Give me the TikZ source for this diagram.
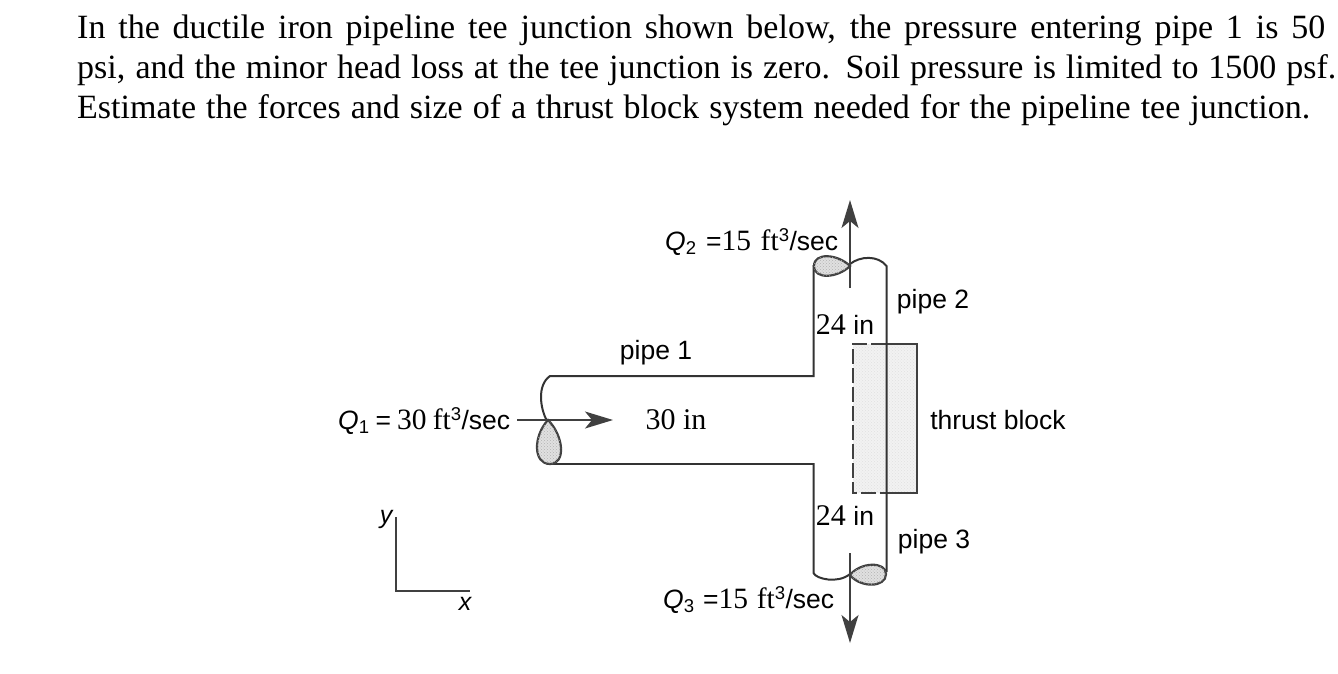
\documentclass[tikz,border=0pt]{standalone}
\usepackage{fontspec}
\setmainfont{Liberation Serif}
\setsansfont{Liberation Sans}
\usetikzlibrary{arrows.meta,patterns}
\newcommand{\rmbig}{\rmfamily\fontsize{29.5}{34}\selectfont}

\begin{document}
\begin{tikzpicture}[x=1pt, y=-1pt]
                  \tikzstyle{prob}=[inner sep=0pt, anchor=base west, font=\fontsize{34}{40}\selectfont]
                  \tikzstyle{lab}=[inner sep=0pt, font=\sffamily\fontsize{26.5}{30}\selectfont]
                  \tikzstyle{dia}=[inner sep=0pt, font=\fontsize{30}{34}\selectfont]
                  \tikzstyle{pipe}=[line width=2pt, black!80]
                  \tikzstyle{flow}=[line width=1.6pt, black!75, -{Stealth[length=28pt, width=17pt, inset=7pt]}]
                  \tikzstyle{pipeend}=[line width=2.2pt, black!75, fill=black!12, postaction={pattern=crosshatch dots, pattern color=black!30}]
                  \tikzstyle{blockfill}=[fill=black!5, postaction={pattern=crosshatch dots, pattern color=black!12}]

                  \useasboundingbox (0,0) rectangle (1338,673);

                  \node[prob] (line1) at (77,38) {\makebox[1248pt][s]{In the ductile iron pipeline tee junction shown below, the pressure entering pipe 1 is 50}};
                  \node[prob] (line2) at (77,78) {\makebox[1259pt][s]{psi, and the minor head loss at the tee junction is zero. Soil pressure is limited to 1500 psf.}};
                  \node[prob] (line3) at (77,118) {\makebox[1233pt][s]{Estimate the forces and size of a thrust block system needed for the pipeline tee junction.}};

                  % thrust block
                  \fill[blockfill] (853,344) rectangle (917,493);
                  \draw[line width=1.8pt, black!75, dash pattern=on 15pt off 4pt] (886,344) -- (853,344) -- (853,493) -- (886,493);
                  \draw[line width=1.8pt, black!75] (886,344) -- (917,344) -- (917,493) -- (886,493);

                  % pipes
                  \draw[pipe] (551,464) -- (813.5,464);
                  \draw[pipe] (813.5,463) -- (813.5,573)
                    .. controls (816,579) and (838,584) .. (850,574);
                  \draw[pipe] (547,421) .. controls (540,408) and (537,385) .. (550,376)
                    -- (813.5,376) -- (813.5,265);
                  \draw[pipe] (850,264) .. controls (860,256) and (878,255) .. (886.5,266) -- (886.5,572);

                  % shaded pipe ends
                  \draw[pipeend] (548,420) .. controls (533,436) and (533,464) .. (550,464)
                    .. controls (566,464) and (564,436) .. (548,420) -- cycle;
                  \draw[pipeend] (850,266) .. controls (838,254) and (814,252) .. (814,266)
                    .. controls (814,280) and (838,278) .. (850,266) -- cycle;
                  \draw[pipeend] (850,575) .. controls (860,562) and (886,561) .. (886,574)
                    .. controls (886,588) and (860,588) .. (850,575) -- cycle;

                  % labels
                  \node[lab, anchor=west] (q1) at (338,421) {\makebox[172pt][s]{\textit{Q}\textsubscript{1} = {\rmbig 30 ft}\textsuperscript{3}/sec}};
                  \node[lab, anchor=west] (q2) at (665,242) {\makebox[173pt][s]{\textit{Q}\textsubscript{2} ={\rmbig 15 ft}\textsuperscript{3}/sec}};
                  \node[lab, anchor=west] (q3) at (663,600) {\makebox[171pt][s]{\textit{Q}\textsubscript{3} ={\rmbig 15 ft}\textsuperscript{3}/sec}};
                  \node[lab] (pipeone) at (656,353) {pipe 1};
                  \node[lab] (pipetwo) at (933,302) {pipe 2};
                  \node[lab] (pipethree) at (934,542) {pipe 3};
                  \node[lab] (block) at (998,420) {thrust block};
                  \node[dia] (dia1) at (676,420) {30 in};
                  \node[dia] (dia2) at (845,325) {24 {\sffamily\fontsize{26.5}{30}\selectfont in}};
                  \node[dia] (dia3) at (845,516) {24 {\sffamily\fontsize{26.5}{30}\selectfont in}};

                  % flow arrows
                  \coordinate (in1) at (517,420);
                  \coordinate (in2) at (613,420);
                  \coordinate (up1) at (850,288);
                  \coordinate (up2) at (850,200);
                  \coordinate (down1) at (850,553);
                  \coordinate (down2) at (850,643);
                  \draw[flow] (in1) -- (in2);
                  \draw[flow] (up1) -- (up2);
                  \draw[flow] (down1) -- (down2);

                  % axes
                  \coordinate (origin) at (396,591);
                  \node[lab, font=\sffamily\itshape\fontsize{25}{28}\selectfont] (yaxis) at (386,519) {y};
                  \node[lab, font=\sffamily\itshape\fontsize{25}{28}\selectfont] (xaxis) at (465,604) {x};
                  \coordinate (ytip) at (396,517);
                  \coordinate (xtip) at (470,591);
                  \draw[line width=2pt, black!75] (ytip) -- (origin) -- (xtip);
                \end{tikzpicture}
\end{document}
